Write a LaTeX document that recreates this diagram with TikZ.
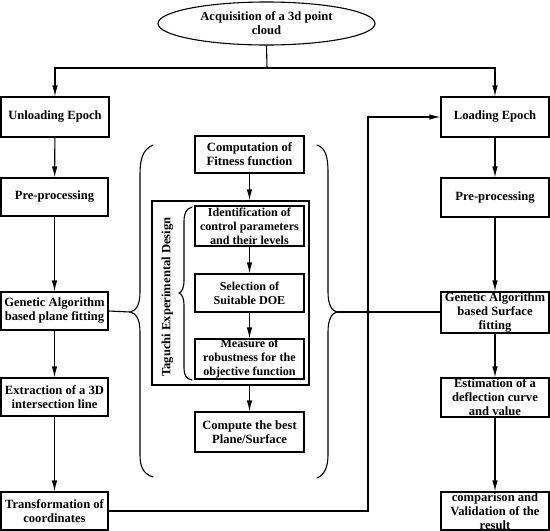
\documentclass[tikz,border=0pt]{standalone}
\usepackage{fontspec}
\setmainfont{Liberation Serif}
\usetikzlibrary{arrows.meta,shapes.geometric}
\begin{document}
\begin{tikzpicture}[x=1pt,y=-1pt,line width=1.1pt,
  box/.style={draw,rectangle,inner sep=0pt,align=center,font=\fontsize{12.6}{14}\selectfont\bfseries},
  ibox/.style={draw,rectangle,inner sep=0pt,align=center,minimum width=109,font=\fontsize{12.1}{14}\selectfont\bfseries},
  lbox/.style={box,minimum width=107,minimum height=38},
  rbox/.style={box,minimum width=108,minimum height=39},
  arr/.style={-{Latex[length=11pt,width=5.5pt]}},
  brace/.style={line width=1.1pt,line cap=round}]
\useasboundingbox (0,0) rectangle (550,531);
% top ellipse
\node[draw,ellipse,inner sep=0pt,minimum width=217,minimum height=43,align=center,
  font=\fontsize{12.6}{14}\selectfont\bfseries] (acq) at (266.5,23.5) {Acquisition of a 3d point\\cloud};
\coordinate (j) at (267,68);
% left column
\node[box,minimum width=108,minimum height=40] (unload) at (55,117) {Unloading Epoch};
\node[lbox] (pre1) at (54.5,197) {Pre-processing};
\node[lbox] (ga1) at (54.5,311) {Genetic Algorithm\\based plane fitting};
\node[lbox] (ext) at (54.5,397) {Extraction of a 3D\\intersection line};
\node[lbox] (trans) at (54.5,511) {Transformation of\\coordinates};
% right column
\node[box,minimum width=108,minimum height=40] (load) at (495,117) {Loading Epoch};
\node[rbox] (pre2) at (495,197.5) {Pre-processing};
\node[box,minimum width=108,minimum height=41] (ga2) at (495,312.5) {Genetic Algorithm\\based Surface\\fitting};
\node[rbox] (est) at (495,397.5) {Estimation of a\\deflection curve\\and value};
\node[box,minimum width=108,minimum height=38] (comp) at (495,511) {comparison and\\Validation of the\\result};
% centre
\node[box,minimum width=109,minimum height=37] (fit) at (249.5,154.5) {Computation of\\Fitness function};
\node[draw,rectangle,inner sep=0pt,minimum width=157,minimum height=184] (tag) at (230.5,293) {};
\node[rotate=90,inner sep=0pt,font=\fontsize{12.6}{14}\selectfont\bfseries] (tagtxt) at (167.5,297) {Taguchi Experimental Design};
\node[ibox,minimum height=40] (ident) at (249.5,226) {Identification of\\control parameters\\and their levels};
\node[ibox,minimum height=38] (sel) at (249.5,293) {Selection of\\Suitable DOE};
\node[ibox,minimum height=40] (meas) at (249.5,359) {Measure of\\robustness for the\\objective function};
\node[box,minimum width=109,minimum height=40] (best) at (249.5,432) {Compute the best\\Plane/Surface};
% braces
\coordinate (lt) at (130,312);
\coordinate (rt) at (337,312);
\draw[brace] (153,145) .. controls (142,150) and (140,160) .. (140,175)
  -- (140,292) .. controls (140,305) and (136,311) .. (lt)
  .. controls (136,313) and (140,319) .. (140,332)
  -- (140,455) .. controls (140,468) and (144,474) .. (153,477);
\draw[brace] (317,145) .. controls (326,148) and (328,158) .. (328,172)
  -- (328,292) .. controls (328,305) and (332,311) .. (rt)
  .. controls (332,313) and (328,319) .. (328,332)
  -- (328,455) .. controls (328,468) and (324,475) .. (317,478);
\draw[brace] (192,207) .. controls (186,209) and (184,213) .. (184,222)
  -- (184,280) .. controls (184,288) and (182,292) .. (179,293)
  .. controls (182,294) and (184,298) .. (184,306)
  -- (184,368) .. controls (184,375) and (186,379) .. (192,380);
% connectors
\draw (acq.south) -- (j);
\draw[arr] (j) -| (unload.north);
\draw[arr] (j) -| (load.north);
\draw[arr] (unload) -- (pre1);
\draw[arr] (pre1) -- (ga1);
\draw[arr] (ga1) -- (ext);
\draw[arr] (ext) -- (trans);
\draw[arr] (load) -- (pre2);
\draw[arr] (pre2) -- (ga2);
\draw[arr] (ga2) -- (est);
\draw[arr] (est) -- (comp);
\draw (ga1.east) -- (lt);
\draw (rt) -- (rt -| ga2.west);
\coordinate (vx) at (368,0);
\draw[arr] (trans.east) -- (trans.east -| vx) |- (load.west);
\draw[arr] (fit.south) -- (fit.south |- tag.north);
\draw[arr] (ident) -- (sel);
\draw[arr] (sel) -- (meas);
\draw[arr] (best.north |- tag.south) -- (best.north);
\end{tikzpicture}
\end{document}
